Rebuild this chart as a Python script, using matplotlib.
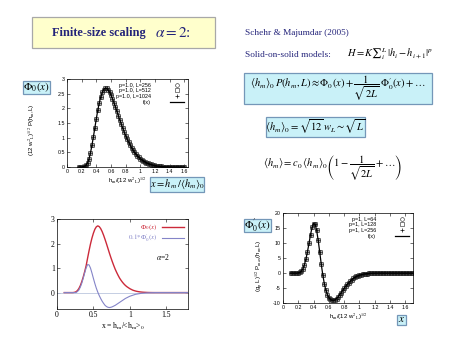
import numpy as np
import matplotlib
matplotlib.use('Agg')
import matplotlib.pyplot as plt
from matplotlib.patches import Rectangle
from matplotlib.ticker import FormatStrFormatter

plt.rcParams['mathtext.fontset'] = 'stix'
plt.rcParams['font.family'] = ['Liberation Serif', 'DejaVu Serif']

W, H = 474, 355
NAVY = '#23237a'
CYAN_FC = '#c9f1f8'
CYAN_EC = '#7497b8'

# ---- top-left panel: data collapse of P(h_m, L), grid 0.16 .. 1.60 step 0.02
x_tl = np.round(np.arange(0.16, 1.601, 0.02), 2)
phi0_tl = [0, 0, 0.002, 0.01, 0.03, 0.06, 0.14, 0.28, 0.48, 0.74,
           1.03, 1.34, 1.65, 1.94, 2.19, 2.39, 2.54, 2.64, 2.69, 2.68,
           2.63, 2.55, 2.45, 2.33, 2.19, 2.05, 1.90, 1.75, 1.60, 1.46,
           1.32, 1.19, 1.07, 0.95, 0.85, 0.75, 0.66, 0.58, 0.50, 0.44,
           0.38, 0.33, 0.28, 0.25, 0.21, 0.18, 0.15, 0.125, 0.105, 0.087,
           0.072, 0.059, 0.048, 0.039, 0.031, 0.025, 0.02, 0.016, 0.012, 0.009,
           0.007, 0.005, 0.004, 0.003, 0.002, 0.002, 0.001, 0.001, 0.001, 0,
           0, 0, 0]
labels_tl = ['p=1.0, L=256', 'p=1.0, L=512', 'p=1.0, L=1024', 'f(x)']

# ---- bottom-left panel: Phi_0 and 0.1*Phi_0', grid 0.10 .. 1.80 step 0.02
x_bl = np.round(np.arange(0.10, 1.801, 0.02), 2)
phi0_bl = [0, 0, 0, 0, 0, 0, 0, 0.01, 0.03,
           0.08, 0.16, 0.28, 0.44, 0.63, 0.85, 1.09, 1.40, 1.70, 1.98,
           2.22, 2.42, 2.58, 2.68, 2.72, 2.69, 2.61, 2.49, 2.34, 2.17,
           1.99, 1.80, 1.61, 1.43, 1.26, 1.10, 0.95, 0.82, 0.70, 0.59,
           0.50, 0.42, 0.35, 0.29, 0.24, 0.20, 0.16, 0.13, 0.10, 0.08,
           0.062, 0.048, 0.037, 0.028, 0.021, 0.015, 0.011, 0.008, 0.005, 0.003,
           0.002, 0.001, 0, 0, 0, 0, 0, 0, 0, 0,
           0, 0, 0, 0, 0, 0, 0, 0, 0, 0,
           0, 0, 0, 0, 0, 0, 0]
dphi0_bl = [0, 0, 0, 0, 0, 0, 0, 0, 0, 0.04,
            0.10, 0.22, 0.38, 0.58, 0.80, 1.00, 1.14, 1.13, 1.00, 0.80,
            0.58, 0.37, 0.18, 0.02, -0.12, -0.24, -0.35, -0.44, -0.52, -0.57,
            -0.60, -0.61, -0.60, -0.58, -0.55, -0.52, -0.48, -0.44, -0.40, -0.36,
            -0.32, -0.28, -0.24, -0.21, -0.18, -0.15, -0.13, -0.11, -0.09, -0.07,
            -0.06, -0.05, -0.04, -0.03, -0.025, -0.02, -0.015, -0.01, -0.007, -0.005,
            -0.003, -0.002, -0.001, 0, 0, 0, 0, 0, 0, 0,
            0, 0, 0, 0, 0, 0, 0, 0, 0, 0,
            0, 0, 0, 0, 0, 0]

# ---- bottom-right panel: Phi_0' data collapse, grid 0.10 .. 1.70 step 0.02
x_br = np.round(np.arange(0.10, 1.701, 0.02), 2)
dphi0_br = [0, 0, 0, 0, 0, 0.05, 0.2, 0.6, 1.4, 2.8,
            4.7, 7.1, 9.9, 12.8, 15.2, 16.5, 16.2, 14.2, 10.9, 7.0,
            3.0, -0.6, -3.5, -5.7, -7.2, -8.2, -8.8, -9.1, -9.1, -8.9,
            -8.5, -7.9, -7.2, -6.5, -5.8, -5.1, -4.4, -3.8, -3.2, -2.7,
            -2.2, -1.8, -1.45, -1.15, -0.9, -0.7, -0.55, -0.42, -0.32, -0.24,
            -0.18, -0.13, -0.09, -0.06, -0.04, -0.03, -0.02, -0.01, 0, 0,
            0, 0, 0, 0, 0, 0, 0, 0, 0, 0,
            0, 0, 0, 0, 0, 0, 0, 0, 0, 0,
            0]
labels_br = ['p=1, L=64', 'p=1, L=128', 'p=1, L=256', 'f(x)']


def fx(px):
    return px / W


def fy(py):
    return 1 - py / H


def box(fig, x0, y0, x1, y1, fc, ec, lw=0.9):
    fig.add_artist(Rectangle((fx(x0), fy(y1)), (x1 - x0) / W, (y1 - y0) / H,
                             transform=fig.transFigure, fc=fc, ec=ec, lw=lw))


def axes_px(fig, x0, y0, x1, y1):
    return fig.add_axes([fx(x0), fy(y1), (x1 - x0) / W, (y1 - y0) / H])


def gnuplot_style(ax, size=3.8, family='Liberation Sans'):
    ax.tick_params(direction='in', length=2, width=0.4, labelsize=size,
                   top=True, right=True, pad=1.5)
    for lab in ax.get_xticklabels() + ax.get_yticklabels():
        lab.set_family(family)
    for s in ax.spines.values():
        s.set_linewidth(0.5)


def collapse_plot(ax, x, y, labels):
    ax.plot(x, y, ls='none', marker='o', ms=2.7, mfc='none', mec='#333333', mew=0.45, label=labels[0])
    ax.plot(x, y, ls='none', marker='s', ms=2.2, mfc='none', mec='#3a3a3a', mew=0.45, label=labels[1])
    ax.plot(x, y, ls='none', marker='+', ms=2.8, color='#111111', mew=0.5, label=labels[2])
    ax.plot(x, y, color='black', lw=0.9, label=labels[3])
    leg = ax.legend(loc='upper right', frameon=False, markerfirst=False,
                    prop={'family': 'Liberation Sans', 'size': 3.9},
                    handlelength=2.6, labelspacing=0.15, borderaxespad=0.25,
                    handletextpad=3.6)
    return leg


fig = plt.figure(figsize=(W / 100, H / 100), dpi=100)
fig.patch.set_facecolor('white')

# title box
box(fig, 32, 17, 215, 48, '#ffffcc', '#a8a8a8')
fig.text(fx(52), fy(33), 'Finite-size scaling', color=NAVY, fontsize=8.8,
         fontweight='bold', ha='left', va='center')
fig.text(fx(155), fy(33), r'$\alpha = 2$:', color=NAVY, fontsize=11,
         ha='left', va='center')

# top-left axes
ax1 = axes_px(fig, 67, 79, 188, 167)
collapse_plot(ax1, x_tl, phi0_tl, labels_tl)
ax1.set_xlim(0, 1.65)
ax1.set_ylim(0, 3)
ax1.set_xticks(np.arange(0, 1.61, 0.2))
ax1.set_yticks(np.arange(0, 3.01, 0.5))
ax1.xaxis.set_major_formatter(FormatStrFormatter('%g'))
ax1.yaxis.set_major_formatter(FormatStrFormatter('%g'))
gnuplot_style(ax1)
ax1.set_xlabel(r'h$_{\rm m}$/(12 w$^2$$_{\rm L}$)$^{1/2}$', fontsize=4.4, labelpad=1,
               family='Liberation Sans')
ax1.set_ylabel(r'(12 w$^2$$_{\rm L}$)$^{1/2}$ P(h$_{\rm m}$,L)', fontsize=4.4,
               family='Liberation Sans')
ax1.yaxis.set_label_coords(-0.25, 0.42)

box(fig, 23, 81, 50, 94, CYAN_FC, CYAN_EC)
fig.text(fx(36.5), fy(87.5), r'$\Phi_0(x)$', fontsize=8, ha='center', va='center')
box(fig, 150, 177, 204, 192, CYAN_FC, CYAN_EC)
fig.text(fx(177), fy(184.5), r'$x = h_m\,/\langle h_m\rangle_0$', fontsize=7.5,
         ha='center', va='center')

# bottom-left axes
ax2 = axes_px(fig, 57, 219, 188, 309)
ax2.axhline(0, color='#bcc6de', lw=0.6)
ax2.plot(x_bl, phi0_bl, color='#cc2a3a', lw=1.0, label=r'$\Phi_0(x)$')
ax2.plot(x_bl, np.array(dphi0_bl), color='#8484c8', lw=0.8,
         label=r"$0.1{*}\Phi_0^{\prime}(x)$")
ax2.set_xlim(0, 1.8)
ax2.set_ylim(-0.67, 3)
ax2.set_xticks([0, 0.5, 1, 1.5])
ax2.set_yticks([0, 1, 2, 3])
ax2.xaxis.set_major_formatter(FormatStrFormatter('%g'))
ax2.yaxis.set_major_formatter(FormatStrFormatter('%g'))
gnuplot_style(ax2, size=5.5, family='Liberation Serif')
ax2.legend(loc='upper right', frameon=False, markerfirst=False, labelcolor='linecolor',
           prop={'family': 'Liberation Serif', 'size': 5.0}, handlelength=3.2,
           labelspacing=0.1, borderaxespad=0.2, handletextpad=0.6)
ax2.text(1.45, 1.45, r'$\alpha$=2', fontsize=5.5, ha='center', va='center')
ax2.set_xlabel(r'x = h$_{\rm m}$/<h$_{\rm m}$>$_0$', fontsize=5.5, labelpad=1)

# top-right text block
fig.text(fx(245), fy(33), 'Schehr & Majumdar (2005)', color=NAVY, fontsize=6.7,
         ha='left', va='center')
fig.text(fx(245), fy(55), 'Solid-on-solid models:', color=NAVY, fontsize=6.7,
         ha='left', va='center')
fig.text(fx(347), fy(54), r'$H = K{\sum}_i^L\,|h_i - h_{i+1}|^p$', fontsize=7.5,
         ha='left', va='center')

box(fig, 244, 73, 432, 104, CYAN_FC, CYAN_EC)
fig.text(fx(338), fy(88.5),
         r'$\langle h_m\rangle_0\, P(h_m, L) \approx \Phi_0(x) + \dfrac{1}{\sqrt{2L}}\,\Phi_0^{\prime}(x) + \ldots$',
         fontsize=7.6, ha='center', va='center')
box(fig, 266, 117, 365, 137, CYAN_FC, CYAN_EC)
fig.text(fx(315.5), fy(127), r'$\langle h_m\rangle_0 = \sqrt{12}\,w_L \sim \sqrt{L}$',
         fontsize=7.6, ha='center', va='center')
fig.text(fx(333), fy(168),
         r'$\langle h_m\rangle = c_0\,\langle h_m\rangle_0 \left(1 - \dfrac{1}{\sqrt{2L}} + \ldots\right)$',
         fontsize=7.6, ha='center', va='center')

# bottom-right axes
ax3 = axes_px(fig, 283, 213, 413, 303)
collapse_plot(ax3, x_br, dphi0_br, labels_br)
ax3.set_xlim(0, 1.7)
ax3.set_ylim(-10, 20)
ax3.set_xticks(np.arange(0, 1.61, 0.2))
ax3.set_yticks(np.arange(-10, 20.1, 5))
ax3.xaxis.set_major_formatter(FormatStrFormatter('%g'))
ax3.yaxis.set_major_formatter(FormatStrFormatter('%g'))
gnuplot_style(ax3)
ax3.set_xlabel(r'h$_{\rm m}$/(12 w$^2$$_{\rm L}$)$^{1/2}$', fontsize=4.4, labelpad=1,
               family='Liberation Sans')
ax3.set_ylabel(r'(g$_{\rm p}$ L)$^{1/2}$ P$_{\rm max}$(h$_{\rm m}$,L)', fontsize=4.4,
               family='Liberation Sans')
ax3.yaxis.set_label_coords(-0.13, 0.41)

box(fig, 244, 219, 271, 232, CYAN_FC, CYAN_EC)
fig.text(fx(257.5), fy(225.5), r'$\Phi_0^{\prime}(x)$', fontsize=8, ha='center', va='center')
box(fig, 397, 315, 406, 325, CYAN_FC, CYAN_EC)
fig.text(fx(401.5), fy(320), r'$x$', fontsize=8, ha='center', va='center')

fig.savefig('out.png', dpi=100, facecolor='white')
plt.close(fig)
